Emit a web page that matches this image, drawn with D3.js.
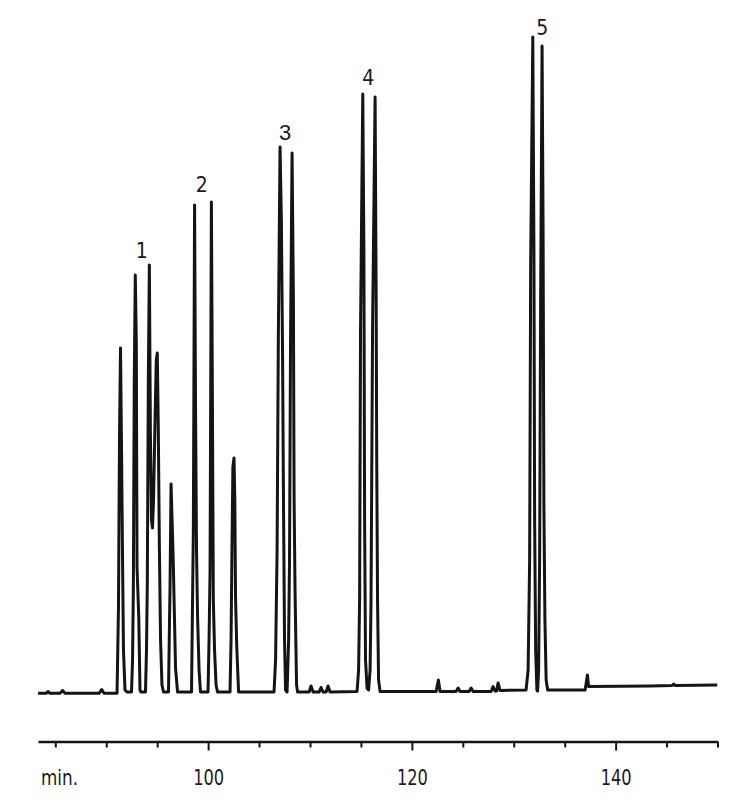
<!DOCTYPE html>
<html>
<head>
<meta charset="utf-8">
<script src="https://cdn.jsdelivr.net/npm/d3@7"></script>
<style>
  body { margin: 0; background: #fff; }
  svg text { font-family: "Liberation Sans Narrow", "DejaVu Sans Condensed", "DejaVu Sans", sans-serif; font-stretch: condensed; fill: #1a1a1a; }
</style>
</head>
<body>
<svg width="743" height="812"></svg>
<script>
// retention time (min) and detector signal (a.u.)
var minutes = [
  83.30, 84.09, 84.28, 84.48, 85.46, 85.71, 85.95, 89.29, 89.55, 89.78, 91.06,
  91.20, 91.30, 91.40, 91.50, 91.60, 91.69, 91.84, 92.04,
  92.48, 92.58, 92.66, 92.75, 92.85, 92.95, 93.02, 93.19, 93.31, 93.41,
  93.85, 93.95, 94.03, 94.13, 94.23, 94.33, 94.44, 94.54, 94.64, 94.79, 94.91, 95.01, 95.11, 95.21, 95.33, 95.47, 95.62,
  96.11, 96.21, 96.26, 96.36, 96.46, 96.58, 96.70, 96.80, 97.00,
  98.37, 98.47, 98.55, 98.67, 98.76, 98.86, 98.96, 99.11, 99.25,
  99.99, 100.09, 100.19, 100.32, 100.41, 100.51, 100.63, 100.78, 100.92,
  102.15, 102.25, 102.35, 102.43, 102.54, 102.62, 102.69, 102.81, 102.99,
  106.47, 106.62, 106.77, 106.89, 107.06, 107.19, 107.31, 107.40, 107.50, 107.60,
  107.75, 107.90, 107.99, 108.09, 108.24, 108.37, 108.44, 108.53, 108.68, 108.78,
  109.91, 110.10, 110.30, 110.89, 111.09, 111.28, 111.58, 111.77, 111.97,
  114.62, 114.77, 114.87, 114.96, 115.18, 115.29, 115.36, 115.45, 115.60,
  115.75, 115.90, 115.99, 116.14, 116.39, 116.49, 116.55, 116.63, 116.73, 116.88,
  122.38, 122.60, 122.77, 124.34, 124.54, 124.73, 125.62, 125.81, 126.01,
  127.78, 127.97, 128.17, 128.32, 128.46, 128.66,
  131.21, 131.41, 131.56, 131.66, 131.87, 131.98, 132.05, 132.15, 132.27,
  132.34, 132.44, 132.54, 132.64, 132.78, 132.88, 132.96, 133.06, 133.18, 133.33,
  137.01, 137.23, 137.35, 143.39, 145.55, 145.70, 145.84, 149.97
];
var signal = [
  1.00, 1.00, 1.27, 1.00, 1.00, 1.42, 1.00, 1.00, 1.57, 1.00, 1.00,
  13.88, 39.25, 52.54, 37.31, 20.90, 7.46, 1.49, 1.19,
  1.19, 5.97, 16.72, 47.76, 63.43, 53.28, 19.85, 12.39, 1.49, 1.19,
  1.19, 7.46, 17.46, 47.76, 64.93, 40.30, 26.87, 25.67, 29.85, 41.79, 50.75, 51.79, 40.30, 23.43, 8.96, 2.24, 1.19,
  1.19, 11.94, 16.72, 32.24, 26.87, 20.45, 11.94, 4.78, 1.19,
  1.19, 14.93, 25.37, 73.88, 44.78, 22.39, 12.69, 4.48, 1.19,
  1.19, 8.96, 19.40, 74.33, 47.76, 14.93, 7.46, 2.24, 1.19,
  1.19, 8.96, 23.88, 34.78, 36.12, 29.85, 15.37, 7.91, 1.19,
  1.19, 5.97, 22.39, 53.73, 82.54, 71.64, 50.75, 29.10, 8.96, 1.49,
  1.19, 8.96, 20.90, 53.73, 81.64, 59.70, 29.85, 16.42, 2.24, 1.19,
  1.19, 2.09, 1.19, 1.19, 1.87, 1.19, 1.19, 2.09, 1.19,
  1.27, 4.48, 14.93, 55.22, 90.45, 67.16, 26.87, 5.97, 1.79,
  1.49, 4.48, 14.93, 55.22, 90.00, 61.19, 35.82, 14.93, 2.99, 1.27,
  1.27, 2.99, 1.27, 1.27, 1.79, 1.27, 1.27, 1.79, 1.27,
  1.27, 2.01, 1.34, 1.34, 2.54, 1.42,
  1.49, 4.48, 20.90, 64.93, 98.96, 67.16, 26.87, 7.46, 1.49,
  1.34, 4.48, 20.90, 59.70, 97.61, 70.15, 29.10, 11.94, 2.99, 1.49,
  1.49, 3.73, 2.01, 2.09, 2.16, 2.39, 2.16, 2.24
];

// peak annotations
var peakLabels = ["1", "2", "3", "4", "5"];
var labelMinutes = [93.48, 99.37, 107.55, 115.73, 132.81];
var labelSignal = [65.9, 75.87, 83.58, 91.79, 99.25];

// axis
var axisTicks = [85, 90, 95, 100, 105, 110, 115, 120, 125, 130, 135, 140, 145, 150];
var labeledTicks = [100, 120, 140];

var svg = d3.select("svg");

var x = d3.scaleLinear().domain([83.3, 150]).range([38, 717.5]);
var y = d3.scaleLinear().domain([0, 100]).range([700, 30]);

var trace = minutes.map(function(m, i) {
  return [m, signal[i]];
});

var line = d3.line()
  .x(function(d) { return x(d[0]); })
  .y(function(d) { return y(d[1]); });

svg.append("path")
  .datum(trace)
  .attr("fill", "none")
  .attr("stroke", "#141414")
  .attr("stroke-width", 3)
  .attr("stroke-linejoin", "round")
  .attr("d", line);

svg.selectAll(".peak-label")
  .data(peakLabels)
  .enter()
  .append("text")
  .attr("class", "peak-label")
  .attr("x", function(d, i) { return x(labelMinutes[i]); })
  .attr("y", function(d, i) { return y(labelSignal[i]); })
  .attr("text-anchor", "middle")
  .attr("font-size", function(d) { return d === "3" ? 22 : 21; })
  .style("font-family", function(d) { return d === "3" ? "'Liberation Sans', Arial, sans-serif" : null; })
  .style("font-stretch", function(d) { return d === "3" ? "normal" : null; })
  .text(function(d) { return d; });

var axis = d3.axisBottom(x)
  .tickValues(axisTicks)
  .tickSize(5)
  .tickSizeOuter(0)
  .tickFormat(function(d) { return labeledTicks.indexOf(d) >= 0 ? d : ""; });

var gx = svg.append("g")
  .attr("transform", "translate(0,741.5)")
  .call(axis);

gx.select(".domain")
  .attr("stroke", "#141414")
  .attr("stroke-width", 2.5);

gx.selectAll(".tick line")
  .attr("stroke", "#141414")
  .attr("stroke-width", 2)
  .attr("y2", function(d) { return labeledTicks.indexOf(d) >= 0 ? 9 : 6; });

gx.selectAll(".tick text")
  .attr("y", 43.5)
  .attr("dy", null)
  .attr("font-size", 22)
  .attr("textLength", 31)
  .attr("lengthAdjust", "spacingAndGlyphs");

gx.append("text")
  .attr("x", 41)
  .attr("y", 43.5)
  .attr("text-anchor", "start")
  .attr("font-size", 22)
  .attr("textLength", 37)
  .attr("lengthAdjust", "spacingAndGlyphs")
  .text("min.");
</script>
</body>
</html>
